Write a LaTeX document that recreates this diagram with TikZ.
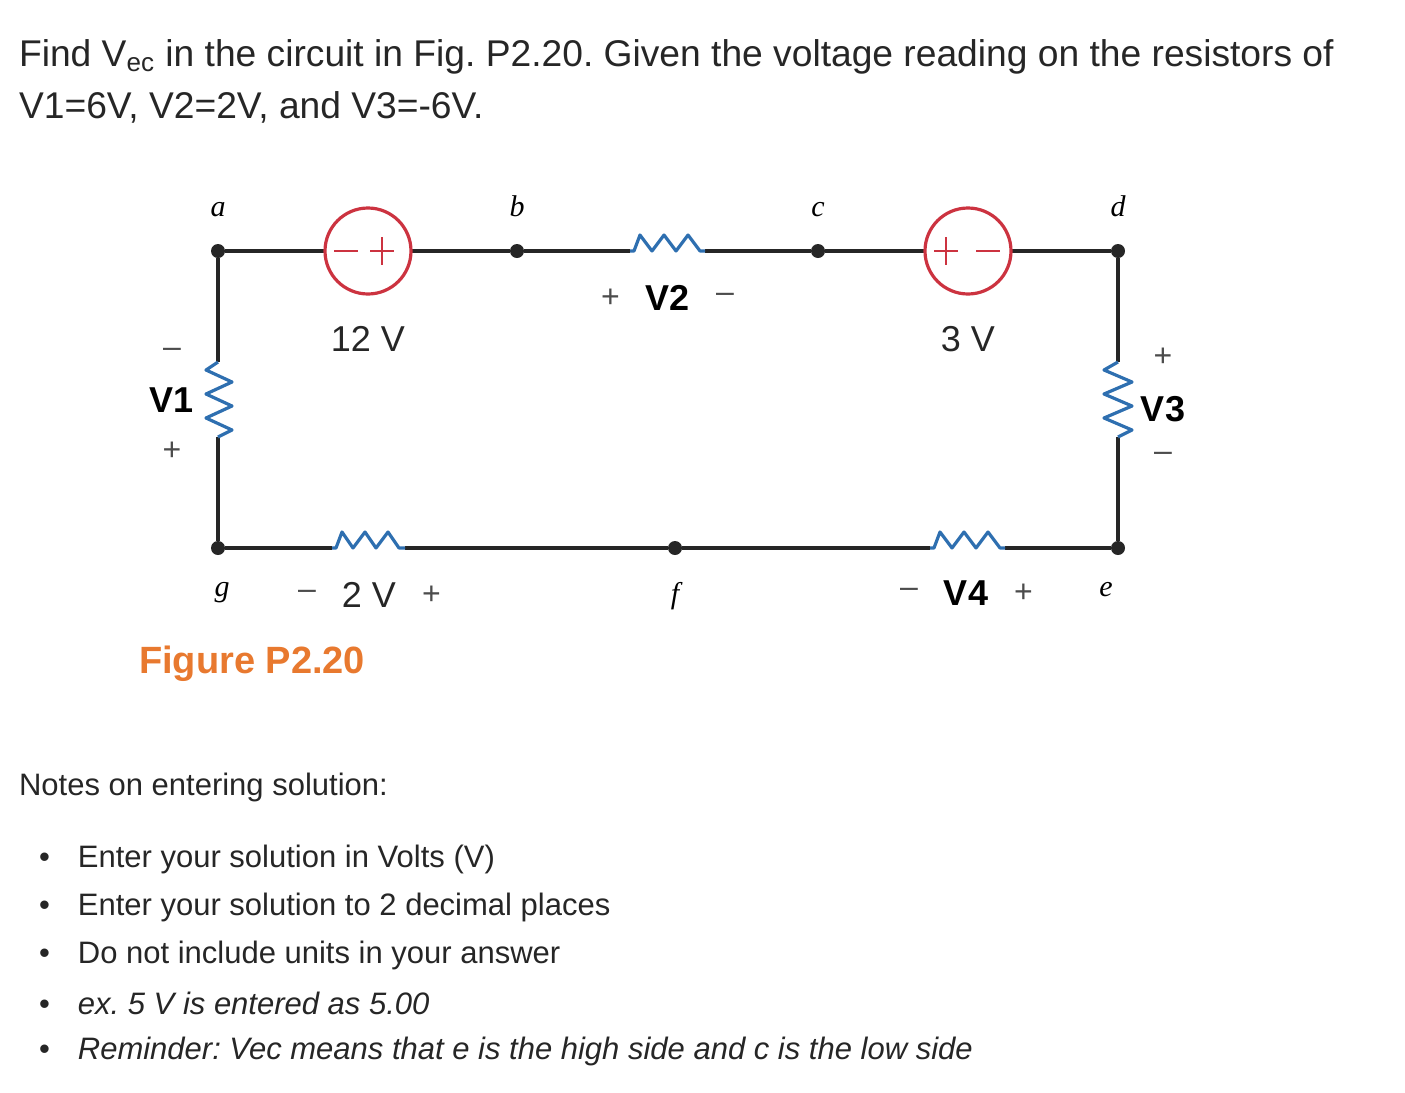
\documentclass[tikz,border=0pt]{standalone}
\usepackage{fontspec}
\setmainfont{Liberation Sans}
\newfontfamily\lblfont{Liberation Serif}
\usetikzlibrary{positioning}
\definecolor{srcred}{HTML}{CC3340}
\definecolor{resblue}{HTML}{2E6FB0}
\definecolor{figorange}{HTML}{E8792F}
\frenchspacing
\tikzset{
  wire/.style = {line width=1.8pt, black!85},
  dot/.style = {circle, fill=black!85, inner sep=0pt, minimum size=7pt},
  src/.style = {circle, draw=srcred, line width=1.6pt, minimum size=43pt, inner sep=0pt, fill=white},
  sign/.style = {srcred, line width=1.2pt},
  res/.style = {line width=1.6pt, resblue, line join=round},
  lbl/.style = {font=\lblfont\itshape\fontsize{15}{15}\selectfont},
  val/.style = {font=\fontsize{18}{18}\selectfont, black!85},
  pm/.style = {font=\fontsize{16}{16}\selectfont, black!70},
  txt/.style = {font=\fontsize{15.5}{19}\selectfont, anchor=west, black!85}
}
\begin{document}
\begin{tikzpicture}[x=0.5pt, y=-0.5pt]
    \useasboundingbox (0,0) rectangle (1405,1093);

    %% Text
    \node [txt, font=\fontsize{18.6}{24}\selectfont, align=left, anchor=north west] (title) at (12,32)
      {Find V\textsubscript{ec} in the circuit in Fig. P2.20. Given the voltage reading on the resistors of\\[2pt]V1=6V, V2=2V, and V3=-6V.};

    %% Nodes
    \node [dot] (a) at (218,251) {};
    \node [dot] (b) at (517,251) {};
    \node [dot] (c) at (818,251) {};
    \node [dot] (d) at (1118,251) {};
    \node [dot] (e) at (1118,548) {};
    \node [dot] (f) at (675,548) {};
    \node [dot] (g) at (218,548) {};
    \node [lbl, above=10pt of a] {a};
    \node [lbl, above=10pt of b] {b};
    \node [lbl, above=10pt of c] {c};
    \node [lbl, above=10pt of d] {d};
    \node [lbl, below=10pt of e, xshift=-6pt] {e};
    \node [lbl, below=10pt of f] {f};
    \node [lbl, below=10pt of g, xshift=2pt] {g};

    %% Wires
    \coordinate (r2l) at (630,251); \coordinate (r2r) at (705,251);
    \coordinate (r1t) at (218,362); \coordinate (r1b) at (218,437);
    \coordinate (r3t) at (1118,362); \coordinate (r3b) at (1118,437);
    \coordinate (rgl) at (332,548); \coordinate (rgr) at (405,548);
    \coordinate (r4l) at (930,548); \coordinate (r4r) at (1005,548);
    \draw [wire] (a) -- (b) -- (r2l);
    \draw [wire] (r2r) -- (c) -- (d) -- (r3t);
    \draw [wire] (r3b) -- (e) -- (r4r);
    \draw [wire] (r4l) -- (f) -- (rgr);
    \draw [wire] (rgl) -- (g) -- (r1b);
    \draw [wire] (r1t) -- (a);

    %% Resistors
    \draw [res] (r2l) -- ++(4,0) -- ++(6,-16) -- ++(12,16) -- ++(12,-16) -- ++(12,16) -- ++(12,-16) -- ++(12,16) -- (r2r);
    \draw [res] (rgl) -- ++(4,0) -- ++(6,-16) -- ++(11,16) -- ++(12,-16) -- ++(11,16) -- ++(12,-16) -- ++(11,16) -- (rgr);
    \draw [res] (r4l) -- ++(4,0) -- ++(6,-16) -- ++(12,16) -- ++(12,-16) -- ++(12,16) -- ++(12,-16) -- ++(12,16) -- (r4r);
    \draw [res] (r1t) -- ++(-12,8) -- ++(26,12) -- ++(-26,12) -- ++(26,12) -- ++(-26,12) -- ++(26,12) -- (r1b);
    \draw [res] (r3t) -- ++(-14,8) -- ++(28,12) -- ++(-28,12) -- ++(28,12) -- ++(-28,12) -- ++(28,12) -- (r3b);

    %% Sources
    \node [src] (s12) at (368,251) {};
    \node [src] (s3) at (968,251) {};
    \draw [sign] (s12.center) ++(-34,0) -- ++(24,0);
    \draw [sign] (s12.center) ++(2,0) -- ++(24,0) ++(-12,-14) -- ++(0,28);
    \draw [sign] (s3.center) ++(-34,0) -- ++(24,0) ++(-12,-14) -- ++(0,28);
    \draw [sign] (s3.center) ++(8,0) -- ++(24,0);
    \node [val, below=12pt of s12] {12 V};
    \node [val, below=12pt of s3] {3 V};

    %% Resistor labels
    \node [font=\bfseries\fontsize{18}{18}\selectfont] (v2) at (668,298) {V2};
    \node [pm, left=6pt of v2] {+};
    \node [pm, right=6pt of v2] {--};
    \node [font=\bfseries\fontsize{18}{18}\selectfont] (v1) at (172,400) {V1};
    \node [pm, above=8pt of v1] {--};
    \node [pm, below=8pt of v1] {+};
    \node [font=\bfseries\fontsize{18}{18}\selectfont] (v3) at (1163,409) {V3};
    \node [pm, above=8pt of v3] {+};
    \node [pm, below=8pt of v3] {--};
    \node [val] (v2v) at (369,595) {2 V};
    \node [pm, left=6pt of v2v] {--};
    \node [pm, right=6pt of v2v] {+};
    \node [font=\bfseries\fontsize{18}{18}\selectfont] (v4) at (966,593) {V4};
    \node [pm, left=6pt of v4] {--};
    \node [pm, right=6pt of v4] {+};

    \node [font=\bfseries\fontsize{19}{19}\selectfont, text=figorange, anchor=west] (fig) at (132,664) {Figure P2.20};

    %% Notes
    \node [txt] (notes) at (12,787) {Notes on entering solution:};
    \node [txt] (i1) at (32,859) {\textbullet\hspace{14pt}Enter your solution in Volts (V)};
    \node [txt] (i2) at (32,907) {\textbullet\hspace{14pt}Enter your solution to 2 decimal places};
    \node [txt] (i3) at (32,955) {\textbullet\hspace{14pt}Do not include units in your answer};
    \node [txt] (i4) at (32,1003) {\textbullet\hspace{14pt}\textit{ex. 5 V is entered as 5.00}};
    \node [txt] (i5) at (32,1051) {\textbullet\hspace{14pt}\textit{Reminder: Vec means that e is the high side and c is the low side}};
\end{tikzpicture}
\end{document}
